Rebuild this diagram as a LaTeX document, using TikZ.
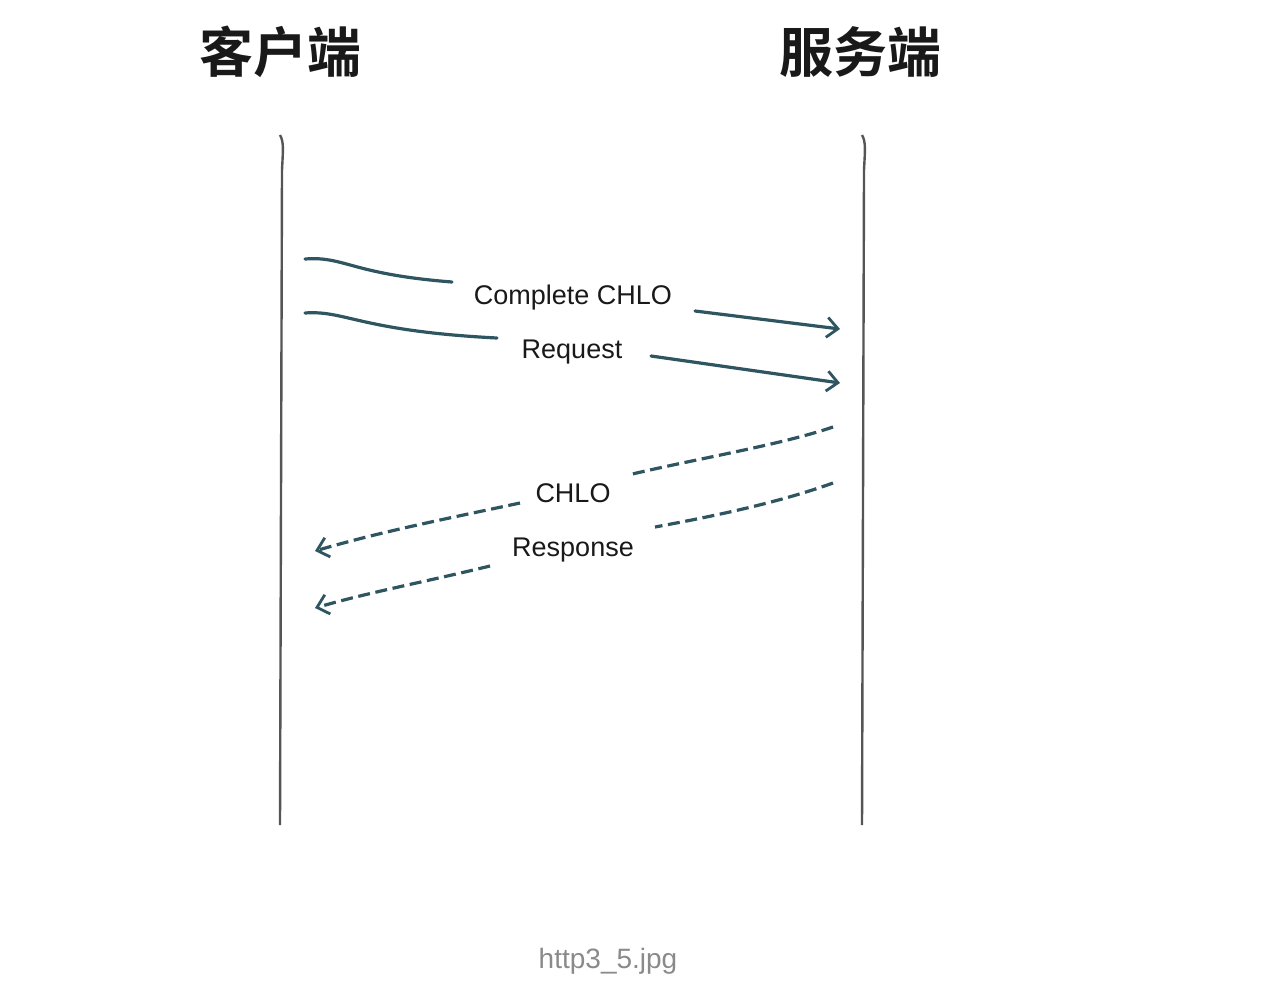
\documentclass[tikz,border=0pt]{standalone}
\usepackage{fontspec}
\setmainfont{Liberation Sans}
\newfontfamily\cjkfont{Noto Sans CJK SC}[BoldFont={* Bold}]
\usetikzlibrary{arrows.meta}
\definecolor{arrowc}{HTML}{2E5560}
\definecolor{lifec}{HTML}{555555}
\definecolor{capc}{HTML}{8A8A8A}
\tikzset{
  lifeline/.style={draw=lifec, line width=1.2pt},
  msg/.style={draw=arrowc, line width=1.6pt, line cap=round},
  msgtip/.style={msg, -{Straight Barb[length=5.5pt,width=10pt,line width=1.4pt]}},
  dmsg/.style={msg, line cap=butt, dash pattern=on 6pt off 2.8pt},
  dmsgtip/.style={dmsg, -{Straight Barb[length=5.5pt,width=10pt,line width=1.4pt]}},
  lbl/.style={font=\fontsize{13.5}{15}\selectfont, text=black!90, inner sep=0pt},
  title/.style={font=\cjkfont\bfseries\fontsize{27}{30}\selectfont, text=black!90, inner sep=0pt},
  caption/.style={font=\fontsize{14}{16}\selectfont, text=capc, inner sep=0pt}
}
\begin{document}
\begin{tikzpicture}[x=0.5pt,y=-0.5pt]
\useasboundingbox (0,0) rectangle (1288,1002);
% titles
\node[title] (client) at (280,52) {客户端};
\node[title] (server) at (860,52) {服务端};
% lifelines
\coordinate (cTop) at (280,135);
\coordinate (cBot) at (280,825);
\coordinate (sTop) at (862,135);
\coordinate (sBot) at (862,825);
\draw[lifeline] (cTop) .. controls (284,142) and (283,150) .. (282,170) -- (cBot);
\draw[lifeline] (sTop) .. controls (866,142) and (865,150) .. (864,170) -- (sBot);
% message 1: Complete CHLO
\node[lbl] (m1) at (573,298) {Complete CHLO};
\coordinate (m1a) at (305,259);
\coordinate (m1b) at (452,282);
\coordinate (m1c) at (695,311);
\coordinate (m1d) at (840,329);
\draw[msg] (m1a) .. controls (345,256) and (350,274) .. (m1b);
\draw[msgtip] (m1c) -- (m1d);
% message 2: Request
\node[lbl] (m2) at (572,352) {Request};
\coordinate (m2a) at (305,313);
\coordinate (m2b) at (497,338);
\coordinate (m2c) at (651,356);
\coordinate (m2d) at (840,383);
\draw[msg] (m2a) .. controls (345,310) and (360,331) .. (m2b);
\draw[msgtip] (m2c) -- (m2d);
% message 3: CHLO (dashed)
\node[lbl] (m3) at (573,493) {CHLO};
\coordinate (m3a) at (833,427);
\coordinate (m3b) at (628,475);
\coordinate (m3c) at (520,503);
\coordinate (m3d) at (315,551);
\draw[dmsg] (m3a) .. controls (780,445) and (700,458) .. (m3b);
\draw[dmsgtip] (m3c) .. controls (440,520) and (380,532) .. (m3d);
% message 4: Response (dashed)
\node[lbl] (m4) at (573,550) {Response};
\coordinate (m4a) at (833,483);
\coordinate (m4b) at (655,527);
\coordinate (m4c) at (490,566);
\coordinate (m4d) at (315,608);
\draw[dmsg] (m4a) .. controls (780,502) and (720,515) .. (m4b);
\draw[dmsgtip] (m4c) .. controls (420,583) and (370,592) .. (m4d);
% caption
\node[caption] (cap) at (608,961) {http3\_5.jpg};
\end{tikzpicture}
\end{document}
